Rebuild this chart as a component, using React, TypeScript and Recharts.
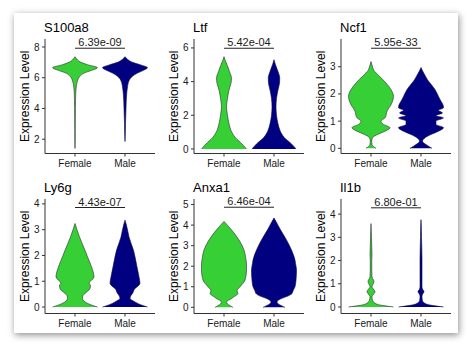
import React from "react";
import { ComposedChart, Area, XAxis, YAxis, ReferenceLine } from "recharts";

const groups = ["Female", "Male"];
const FONT = '"Liberation Sans", Arial, sans-serif';
const GREEN = "#36CF36";
const NAVY = "#000080";

// S100a8
const s100a8Levels = [1.4, 1.85, 2.5, 3.0, 3.5, 4.0, 4.5, 5.0, 5.4, 5.8, 6.1, 6.3, 6.5, 6.65, 6.85, 7.0, 7.2, 7.37];
const s100a8Female = [0, 0.004, 0.005, 0.006, 0.007, 0.008, 0.01, 0.015, 0.025, 0.05, 0.1, 0.18, 0.35, 0.45, 0.25, 0.12, 0.04, 0];
const s100a8Male = [null, 0, 0.008, 0.01, 0.015, 0.02, 0.025, 0.035, 0.05, 0.08, 0.15, 0.25, 0.38, 0.45, 0.3, 0.15, 0.05, 0];

// Ltf
const ltfLevels = [0, 0.3, 0.7, 1.1, 1.5, 2.0, 2.5, 3.0, 3.5, 3.9, 4.2, 4.6, 5.0, 5.3, 5.48];
const ltfFemale = [0.45, 0.36, 0.22, 0.14, 0.1, 0.07, 0.05, 0.07, 0.1, 0.14, 0.15, 0.11, 0.06, 0.02, 0];
const ltfMale = [0.44, 0.35, 0.2, 0.12, 0.08, 0.05, 0.04, 0.05, 0.08, 0.11, 0.115, 0.08, 0.03, 0, null];

// Ncf1
const ncf1Levels = [0, 0.14, 0.26, 0.39, 0.51, 0.63, 0.76, 0.88, 1.0, 1.12, 1.2, 1.3, 1.4, 1.49, 1.6, 1.73, 1.91, 2.16, 2.4, 2.52, 2.65, 2.89, 2.97, 3.19];
const ncf1Female = [0.1, 0.02, 0.015, 0.03, 0.13, 0.28, 0.38, 0.25, 0.2, 0.28, 0.3, 0.31, 0.33, 0.36, 0.4, 0.43, 0.45, 0.4, 0.3, 0.24, 0.17, 0.05, 0.035, 0];
const ncf1Male = [0.22, 0.1, 0.03, 0.08, 0.2, 0.35, 0.45, 0.3, 0.3, 0.45, 0.3, 0.43, 0.35, 0.45, 0.44, 0.4, 0.35, 0.28, 0.18, 0.13, 0.09, 0.02, 0, null];

// Ly6g
const ly6gLevels = [0, 0.1, 0.2, 0.34, 0.45, 0.53, 0.72, 0.85, 0.92, 1.17, 1.56, 1.95, 2.2, 2.72, 3.0, 3.24, 3.37];
const ly6gFemale = [0.45, 0.3, 0.2, 0.15, 0.16, 0.2, 0.3, 0.31, 0.28, 0.38, 0.33, 0.25, 0.2, 0.09, 0.04, 0, null];
const ly6gMale = [0.45, 0.3, 0.2, 0.1, 0.12, 0.15, 0.2, 0.28, 0.3, 0.28, 0.24, 0.2, 0.17, 0.08, 0.05, 0.02, 0];

// Anxa1
const anxa1Levels = [0, 0.26, 0.43, 0.55, 0.67, 0.8, 1.0, 1.32, 1.81, 2.14, 2.3, 2.79, 3.28, 3.77, 4.18, 4.35];
const anxa1Female = [0.18, 0.05, 0.15, 0.22, 0.28, 0.26, 0.32, 0.42, 0.45, 0.45, 0.44, 0.4, 0.3, 0.15, 0, null];
const anxa1Male = [0.22, 0.06, 0.15, 0.28, 0.36, 0.38, 0.42, 0.44, 0.45, 0.43, 0.42, 0.35, 0.25, 0.13, 0.04, 0];

// Il1b
const il1bLevels = [0, 0.05, 0.1, 0.2, 0.3, 0.44, 0.55, 0.66, 0.77, 0.87, 1.02, 1.1, 1.16, 1.3, 1.6, 2.0, 2.3, 2.6, 3.0, 3.3, 3.59, 3.76];
const il1bFemale = [0.45, 0.28, 0.15, 0.06, 0.03, 0.02, 0.05, 0.08, 0.05, 0.02, 0.05, 0.06, 0.05, 0.02, 0.015, 0.015, 0.02, 0.015, 0.01, 0.005, 0, null];
const il1bMale = [0.45, 0.28, 0.15, 0.05, 0.025, 0.02, 0.03, 0.06, 0.03, 0.02, 0.02, 0.02, 0.02, 0.02, 0.02, 0.02, 0.018, 0.015, 0.01, 0.008, 0.004, 0];

const genes = ["S100a8", "Ltf", "Ncf1", "Ly6g", "Anxa1", "Il1b"];
const pValues = ["6.39e-09", "5.42e-04", "5.95e-33", "4.43e-07", "6.46e-04", "6.80e-01"];
const bracketLevels = [7.92, 5.98, 3.68, 3.86, 4.87, 4.27];
const yDomains: [number, number][] = [[1.07, 8.52], [-0.27, 6.53], [-0.19, 4.02], [-0.25, 4.19], [-0.3, 5.27], [-0.28, 4.65]];
const yTicks = [[2, 4, 6, 8], [0, 2, 4, 6], [0, 1, 2, 3], [0, 1, 2, 3, 4], [0, 1, 2, 3, 4, 5], [0, 1, 2, 3, 4]];
const violinLevels = [s100a8Levels, ltfLevels, ncf1Levels, ly6gLevels, anxa1Levels, il1bLevels];
const femaleWidths = [s100a8Female, ltfFemale, ncf1Female, ly6gFemale, anxa1Female, il1bFemale];
const maleWidths = [s100a8Male, ltfMale, ncf1Male, ly6gMale, anxa1Male, il1bMale];

const axisXs = [45, 194, 341];
const rowTops = [30, 190];

type Row = { y: number; f: number | null; m: number | null };

function span(center: number, w: number | null) {
  return w == null ? [null, null] : [center - w, center + w];
}

function ViolinPanel({ idx }: { idx: number }) {
  const rows: Row[] = violinLevels[idx].map((y, i) => ({ y, f: femaleWidths[idx][i], m: maleWidths[idx][i] }));
  const axisX = axisXs[idx % 3];
  const top = rowTops[Math.floor(idx / 3)];
  const tickStyle = { fontSize: 10, fill: "#1a1a1a", fontFamily: FONT };
  return (
    <div style={{ position: "absolute", left: axisX - 45, top }}>
      <div
        style={{
          position: "absolute",
          left: 44,
          top: -10,
          fontSize: 13,
          fontFamily: FONT,
          color: "#000",
          whiteSpace: "nowrap",
        }}
      >
        {genes[idx]}
      </div>
      <ComposedChart
        width={157}
        height={144}
        layout="vertical"
        data={rows}
        margin={{ top: 9, right: 2, bottom: 0.5, left: 0 }}
      >
        <XAxis
          type="number"
          domain={[0.4, 2.6]}
          ticks={[1, 2]}
          allowDataOverflow
          tickFormatter={(v: number) => groups[v - 1]}
          height={20}
          tickSize={3}
          tickMargin={3}
          stroke="#333"
          tick={tickStyle}
          interval={0}
        />
        <YAxis
          type="number"
          dataKey="y"
          reversed
          domain={yDomains[idx]}
          ticks={yTicks[idx]}
          allowDataOverflow
          width={45}
          tickSize={3}
          tickMargin={2.5}
          stroke="#333"
          tick={tickStyle}
          interval={0}
          label={{
            value: "Expression Level",
            angle: -90,
            position: "insideLeft",
            offset: 25,
            style: { textAnchor: "middle", fontSize: 12, fill: "#000", fontFamily: FONT },
          }}
        />
        <Area
          type="monotone"
          dataKey={(r: Row) => span(1, r.f)}
          fill={GREEN}
          fillOpacity={1}
          stroke="#2a2a2a"
          strokeWidth={0.6}
          isAnimationActive={false}
        />
        <Area
          type="monotone"
          dataKey={(r: Row) => span(2, r.m)}
          fill={NAVY}
          fillOpacity={1}
          stroke="#0a0a40"
          strokeWidth={0.6}
          isAnimationActive={false}
        />
        <ReferenceLine
          segment={[
            { x: 1, y: bracketLevels[idx] },
            { x: 2, y: bracketLevels[idx] },
          ]}
          stroke="#222"
          strokeWidth={1}
          ifOverflow="visible"
          label={{ value: pValues[idx], position: "top", offset: 2, fontSize: 11, fill: "#1a1a1a", fontFamily: FONT }}
        />
      </ComposedChart>
    </div>
  );
}

export default function App() {
  return (
    <div style={{ position: "absolute", left: 0, top: 0, width: 474, height: 349, background: "#fff", overflow: "hidden" }}>
      <div
        style={{
          position: "absolute",
          left: 14,
          top: 13,
          width: 444,
          height: 320,
          background: "#fff",
          boxShadow: "1px 2px 7px rgba(0,0,0,0.45)",
        }}
      />
      {genes.map((g, i) => (
        <ViolinPanel key={g} idx={i} />
      ))}
    </div>
  );
}
